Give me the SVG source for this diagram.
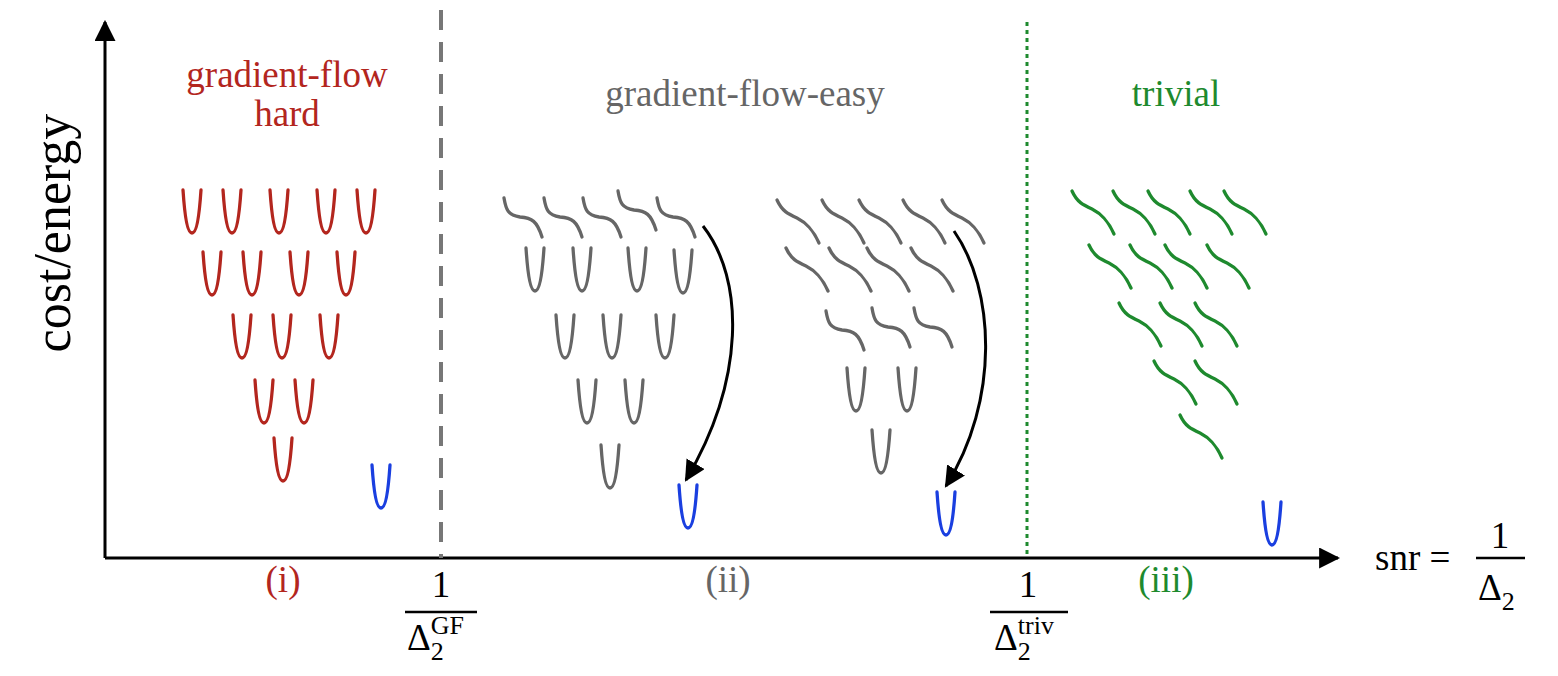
<svg xmlns="http://www.w3.org/2000/svg" width="1558" height="676" viewBox="0 0 1558 676">
<style>
.t{font-family:"Liberation Serif",serif}
use{fill:none}
</style>
<defs>
<path id="v" d="M0,0 C2,30 5,43 9,43 C13,43 16,30 18,0" fill="none" stroke-width="3.3" stroke-linecap="round"/>
<path id="s" d="M0,0 C2,12 4,17 16,19 C28,20 33,23 38,39" fill="none" stroke-width="3.3" stroke-linecap="round"/>
<path id="w" d="M0,0 C5,11 11,14 20,18 C30,23 36,30 42,43" fill="none" stroke-width="3.3" stroke-linecap="round"/>
<marker id="ah" viewBox="0 0 10 10" refX="9" refY="5" markerWidth="7" markerHeight="7" orient="auto"><path d="M0,0 L10,5 L0,10 z" fill="#000"/></marker>
</defs>
<rect width="1558" height="676" fill="#fff"/>
<g id="axes" stroke="#000" stroke-width="3" fill="none">
<line x1="105" y1="558" x2="105" y2="22" marker-end="url(#ah)"/>
<line x1="105" y1="558" x2="1338" y2="558" marker-end="url(#ah)"/>
<line x1="441" y1="10" x2="441" y2="558" stroke="#777" stroke-width="4" stroke-dasharray="20,12"/>
<line x1="1027" y1="22" x2="1027" y2="558" stroke="#1e8a2e" stroke-width="3" stroke-dasharray="4,4"/>
</g>
<g id="red">
<use href="#v" x="183" y="190" stroke="#b3261e"/><use href="#v" x="223" y="190" stroke="#b3261e"/><use href="#v" x="270" y="190" stroke="#b3261e"/><use href="#v" x="317" y="190" stroke="#b3261e"/><use href="#v" x="357" y="190" stroke="#b3261e"/>
<use href="#v" x="203" y="252" stroke="#b3261e"/><use href="#v" x="243" y="252" stroke="#b3261e"/><use href="#v" x="290" y="252" stroke="#b3261e"/><use href="#v" x="337" y="252" stroke="#b3261e"/>
<use href="#v" x="233" y="315" stroke="#b3261e"/><use href="#v" x="273" y="315" stroke="#b3261e"/><use href="#v" x="320" y="315" stroke="#b3261e"/>
<use href="#v" x="255" y="380" stroke="#b3261e"/><use href="#v" x="295" y="380" stroke="#b3261e"/>
<use href="#v" x="274" y="438" stroke="#b3261e"/>
</g>
<g id="blue">
<use href="#v" x="372" y="465" stroke="#1a3fe0"/><use href="#v" x="679" y="485" stroke="#1a3fe0"/><use href="#v" x="937" y="492" stroke="#1a3fe0"/><use href="#v" x="1263" y="502" stroke="#1a3fe0"/>
</g>
<g id="gray1">
<use href="#s" x="504" y="198" stroke="#666"/><use href="#s" x="544" y="198" stroke="#666"/><use href="#s" x="583" y="198" stroke="#666"/><use href="#s" x="618" y="191" stroke="#666"/><use href="#s" x="657" y="198" stroke="#666"/>
<use href="#v" x="526" y="248" stroke="#666"/><use href="#v" x="573" y="248" stroke="#666"/><use href="#v" x="628" y="248" stroke="#666"/><use href="#v" x="674" y="250" stroke="#666"/>
<use href="#v" x="556" y="315" stroke="#666"/><use href="#v" x="603" y="315" stroke="#666"/><use href="#v" x="656" y="315" stroke="#666"/>
<use href="#v" x="578" y="380" stroke="#666"/><use href="#v" x="625" y="380" stroke="#666"/>
<use href="#v" x="601" y="445" stroke="#666"/>
</g>
<g id="gray2">
<use href="#w" x="777" y="200" stroke="#666"/><use href="#w" x="822" y="200" stroke="#666"/><use href="#w" x="859" y="200" stroke="#666"/><use href="#w" x="903" y="200" stroke="#666"/><use href="#w" x="942" y="200" stroke="#666"/>
<use href="#w" x="786" y="248" stroke="#666"/><use href="#w" x="829" y="248" stroke="#666"/><use href="#w" x="867" y="248" stroke="#666"/><use href="#w" x="911" y="248" stroke="#666"/>
<use href="#s" x="826" y="311" stroke="#666"/><use href="#s" x="872" y="308" stroke="#666"/><use href="#s" x="914" y="308" stroke="#666"/>
<use href="#v" x="847" y="368" stroke="#666"/><use href="#v" x="898" y="368" stroke="#666"/>
<use href="#v" x="872" y="430" stroke="#666"/>
</g>
<g id="green">
<use href="#w" x="1072" y="191" stroke="#1e8a2e"/><use href="#w" x="1113" y="191" stroke="#1e8a2e"/><use href="#w" x="1148" y="191" stroke="#1e8a2e"/><use href="#w" x="1190" y="191" stroke="#1e8a2e"/><use href="#w" x="1224" y="191" stroke="#1e8a2e"/>
<use href="#w" x="1089" y="245" stroke="#1e8a2e"/><use href="#w" x="1130" y="245" stroke="#1e8a2e"/><use href="#w" x="1165" y="245" stroke="#1e8a2e"/><use href="#w" x="1207" y="245" stroke="#1e8a2e"/>
<use href="#w" x="1119" y="303" stroke="#1e8a2e"/><use href="#w" x="1160" y="303" stroke="#1e8a2e"/><use href="#w" x="1195" y="303" stroke="#1e8a2e"/>
<use href="#w" x="1154" y="361" stroke="#1e8a2e"/><use href="#w" x="1195" y="361" stroke="#1e8a2e"/>
<use href="#w" x="1180" y="415" stroke="#1e8a2e"/>
</g>
<g id="connectors" fill="none" stroke="#000" stroke-width="3">
<path d="M703,226 C745,280 745,380 686,480" marker-end="url(#ah)"/>
<path d="M954,231 C995,290 1000,400 946,486" marker-end="url(#ah)"/>
</g>
<g id="labels" class="t" text-anchor="middle" font-size="37">
<text x="287" y="87" fill="#b3261e">gradient-flow</text>
<text x="287" y="126" fill="#b3261e">hard</text>
<text x="745" y="106" fill="#666">gradient-flow-easy</text>
<text x="1176" y="106" fill="#1e8a2e">trivial</text>
<text transform="translate(70,233) rotate(-90)" font-size="52" fill="#000">cost/energy</text>
<text x="283" y="592" fill="#b3261e">(i)</text>
<text x="728" y="592" fill="#666">(ii)</text>
<text x="1166" y="592" fill="#1e8a2e">(iii)</text>
<g font-size="37" fill="#000">
<text x="441" y="597">1</text>
<text x="1028" y="597">1</text>
<text x="1500" y="548">1</text>
<text x="1375" y="570" text-anchor="start">snr =</text>
<text x="407" y="650" text-anchor="start">Δ<tspan font-size="26" dy="10">2</tspan><tspan font-size="26" dx="-13" dy="-26">GF</tspan></text>
<text x="994" y="650" text-anchor="start">Δ<tspan font-size="26" dy="10">2</tspan><tspan font-size="26" dx="-13" dy="-26">triv</tspan></text>
<text x="1478" y="600" text-anchor="start">Δ<tspan font-size="26" dy="10">2</tspan></text>
</g>
</g>
<g id="fraclines" stroke="#000" stroke-width="2.5">
<line x1="405" y1="612" x2="477" y2="612"/>
<line x1="990" y1="612" x2="1068" y2="612"/>
<line x1="1476" y1="558" x2="1525" y2="558"/>
</g>
</svg>
